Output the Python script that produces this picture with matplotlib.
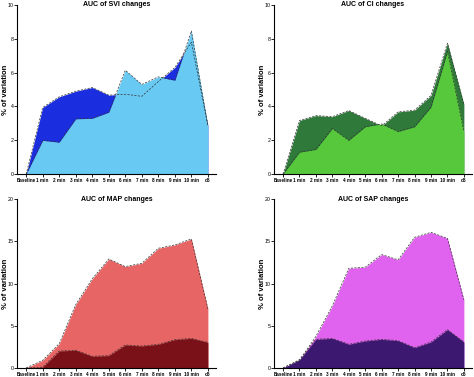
import numpy as np
import matplotlib
matplotlib.use('Agg')
import matplotlib.pyplot as plt

# x categories
times = ['Baseline', '1 min', '2 min', '3 min', '4 min', '5 min', '6 min',
         '7 min', '8 min', '9 min', '10 min', 'd5']

# % of variation
svi_dark = [0, 3.94, 4.57, 4.9, 5.12, 4.67, 4.72, 4.6, 5.47, 6.3, 7.8, 2.87]
svi_light = [0, 2.0, 1.89, 3.27, 3.3, 3.66, 6.14, 5.3, 5.75, 5.55, 8.46, 2.87]
ci_dark = [0, 3.17, 3.46, 3.4, 3.76, 3.3, 2.85, 3.68, 3.78, 4.65, 7.74, 4.13]
ci_light = [0, 1.3, 1.46, 2.7, 2.0, 2.8, 2.97, 2.52, 2.8, 3.96, 7.25, 2.52]
map_light = [0, 0.9, 2.87, 7.5, 10.55, 12.9, 12.0, 12.4, 14.17, 14.57, 15.28, 7.0]
map_dark = [0, 0.1, 2.0, 2.1, 1.38, 1.46, 2.72, 2.6, 2.8, 3.35, 3.5, 3.03]
sap_light = [0, 0.9, 3.74, 7.36, 11.8, 11.93, 13.43, 12.8, 15.47, 16.06, 15.35, 8.07]
sap_dark = [0, 0.98, 3.39, 3.5, 2.8, 3.19, 3.39, 3.23, 2.4, 3.07, 4.53, 3.07]

x = np.arange(len(times))

plt.rcParams['font.family'] = ['Liberation Sans Narrow', 'Liberation Sans', 'DejaVu Sans']

fig = plt.figure(figsize=(4.74, 3.77), dpi=100)

panels = [
    # rect, title, back series, front series, colors, ymax, ystep
    ([0.036, 0.538, 0.42, 0.449], 'AUC of SVI changes', svi_dark, svi_light,
     '#1a2ee0', '#68c9f2', 10, 2),
    ([0.578, 0.538, 0.418, 0.449], 'AUC of CI changes', ci_dark, ci_light,
     '#2f7a3a', '#57c83c', 10, 2),
    ([0.036, 0.024, 0.42, 0.448], 'AUC of MAP changes', map_light, map_dark,
     '#e86565', '#7a1119', 20, 5),
    ([0.578, 0.024, 0.418, 0.448], 'AUC of SAP changes', sap_light, sap_dark,
     '#e063ef', '#3d1870', 20, 5),
]

for rect, title, back, front, c_back, c_front, ymax, ystep in panels:
    ax = fig.add_axes(rect)
    ax.fill_between(x, 0, back, color=c_back, lw=0, zorder=1)
    ax.fill_between(x, 0, front, color=c_front, lw=0, zorder=2)
    ax.plot(x, back, color='#333333', lw=0.5, ls=(0, (3, 2)), zorder=3)
    ax.plot(x, front, color='#333333', lw=0.5, ls=(0, (3, 2)), zorder=3)

    ax.set_xlim(-0.55, 11.5)
    ax.set_ylim(0, ymax)
    ax.set_xticks(x)
    ax.set_xticklabels(times, fontsize=3.3, fontweight='bold')
    ax.set_yticks(np.arange(0, ymax + 1, ystep))
    ax.tick_params(axis='y', labelsize=3.8, length=2, width=0.6, pad=0.5)
    ax.tick_params(axis='x', length=2, width=0.6, pad=0.8)
    for side in ['top', 'right']:
        ax.spines[side].set_visible(False)
    for side in ['left', 'bottom']:
        ax.spines[side].set_linewidth(0.8)
    ax.set_ylabel('% of variation', fontsize=5.5, fontweight='bold')
    ax.yaxis.set_label_coords(-0.042, 0.5)
    ax.text(0.5, 1.0, title, transform=ax.transAxes, ha='center', va='center',
            fontsize=5, fontweight='bold')

fig.savefig('out.png', dpi=100)
